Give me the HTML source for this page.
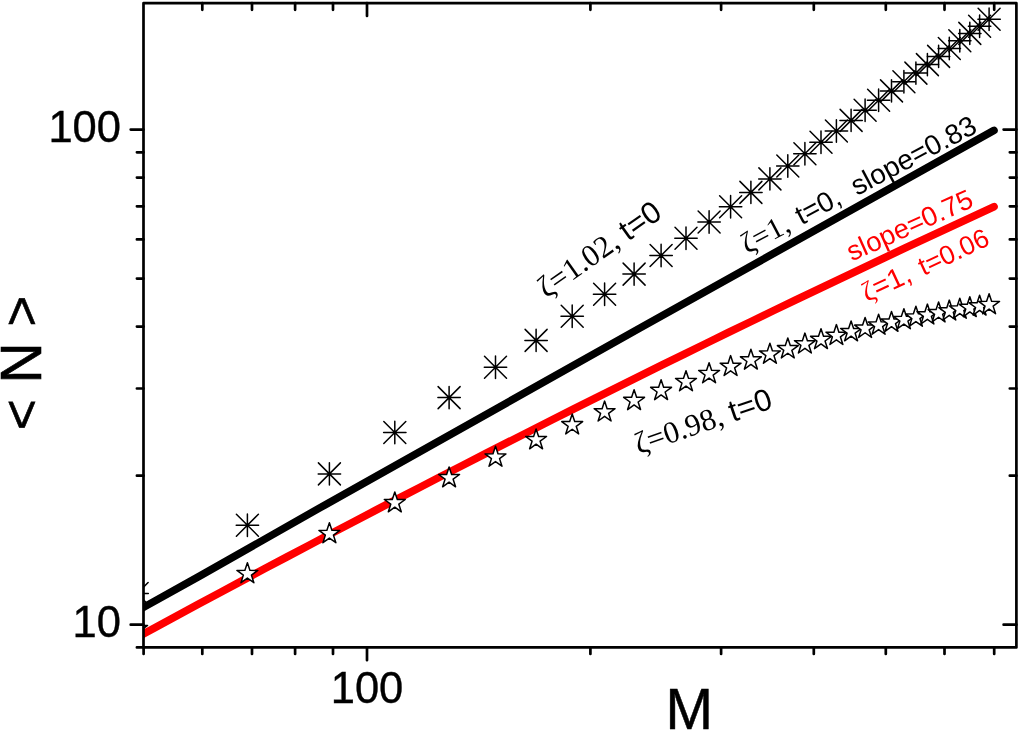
<!DOCTYPE html>
<html><head><meta charset="utf-8"><title>N vs M</title>
<style>
html,body{margin:0;padding:0;background:#fff;}
body{width:1020px;height:731px;overflow:hidden;}
svg{display:block;}
text{font-family:"Liberation Sans",sans-serif;}
.se{font-family:"Liberation Serif",serif;}
</style></head><body>
<svg width="1020" height="731" viewBox="0 0 1020 731">
<defs>
<clipPath id="cp"><rect x="143.5" y="3.2" width="872.9" height="644.2"/></clipPath>
<g id="as" stroke="#000" stroke-width="1.5" fill="none" stroke-linecap="round"><path d="M-11.2 0H11.2M0 -11.2V11.2M-11 -11L11 11M-11 11L11 -11"/></g>
<path id="st" fill="#fff" stroke="#000" stroke-width="1.5" stroke-linejoin="round" d="M0.00 -11.00L2.50 -3.44L10.46 -3.40L4.04 1.31L6.47 8.90L0.00 4.25L-6.47 8.90L-4.04 1.31L-10.46 -3.40L-2.50 -3.44Z"/>
</defs>
<rect width="1020" height="731" fill="#fff"/>

<g clip-path="url(#cp)">
<polyline fill="none" stroke="#000" stroke-width="7.6" stroke-linecap="round" stroke-linejoin="round" points="110,626 145,606.5 200,575.9 320,507.8 640,328 994,130.4"/>
<polyline fill="none" stroke="#f00" stroke-width="7.7" stroke-linecap="round" stroke-linejoin="round" points="110.0,652.2 132.1,640.1 154.2,628.1 176.3,616.2 198.4,604.2 220.5,592.3 242.6,580.5 264.7,568.7 286.8,557.0 308.9,545.3 331.0,533.7 353.1,522.1 375.2,510.5 397.3,499.0 419.4,487.6 441.5,476.2 463.6,464.8 485.7,453.5 507.8,442.3 529.9,431.1 552.0,419.9 574.1,408.8 596.2,397.7 618.3,386.7 640.4,375.8 662.5,364.8 684.6,354.0 706.7,343.1 728.8,332.3 750.9,321.6 773.0,310.9 795.1,300.3 817.2,289.7 839.3,279.2 861.4,268.7 883.5,258.2 905.6,247.8 927.7,237.5 949.8,227.2 971.9,216.9 994.0,206.7"/>
<use href="#as" x="137.1" y="593.5"/>
<use href="#as" x="247.4" y="525.2"/>
<use href="#as" x="329.4" y="473.9"/>
<use href="#as" x="394.8" y="432.5"/>
<use href="#as" x="449.1" y="397.6"/>
<use href="#as" x="495.5" y="367.2"/>
<use href="#as" x="536.1" y="340.4"/>
<use href="#as" x="572.2" y="316.2"/>
<use href="#as" x="604.6" y="294.3"/>
<use href="#as" x="634.1" y="274.1"/>
<use href="#as" x="661.1" y="255.5"/>
<use href="#as" x="686.0" y="238.2"/>
<use href="#as" x="709.1" y="222.0"/>
<use href="#as" x="730.6" y="206.8"/>
<use href="#as" x="750.9" y="192.4"/>
<use href="#as" x="769.9" y="178.9"/>
<use href="#as" x="787.8" y="166.0"/>
<use href="#as" x="804.9" y="153.8"/>
<use href="#as" x="821.0" y="142.2"/>
<use href="#as" x="836.4" y="131.0"/>
<use href="#as" x="851.1" y="120.4"/>
<use href="#as" x="865.1" y="110.2"/>
<use href="#as" x="878.6" y="100.3"/>
<use href="#as" x="891.5" y="90.9"/>
<use href="#as" x="903.9" y="81.8"/>
<use href="#as" x="915.9" y="73.1"/>
<use href="#as" x="927.4" y="64.6"/>
<use href="#as" x="938.6" y="56.4"/>
<use href="#as" x="949.3" y="48.5"/>
<use href="#as" x="959.8" y="40.8"/>
<use href="#as" x="969.8" y="33.4"/>
<use href="#as" x="979.6" y="26.2"/>
<use href="#as" x="989.1" y="19.2"/>
<use href="#st" x="137.1" y="628.8"/>
<use href="#st" x="247.4" y="573.8"/>
<use href="#st" x="329.4" y="533.8"/>
<use href="#st" x="394.8" y="502.9"/>
<use href="#st" x="449.1" y="477.9"/>
<use href="#st" x="495.5" y="457.3"/>
<use href="#st" x="536.1" y="439.9"/>
<use href="#st" x="572.2" y="425.0"/>
<use href="#st" x="604.6" y="412.1"/>
<use href="#st" x="634.1" y="400.7"/>
<use href="#st" x="661.1" y="390.7"/>
<use href="#st" x="686.0" y="381.8"/>
<use href="#st" x="709.1" y="373.8"/>
<use href="#st" x="730.6" y="366.6"/>
<use href="#st" x="750.9" y="360.2"/>
<use href="#st" x="769.9" y="354.3"/>
<use href="#st" x="787.8" y="349.0"/>
<use href="#st" x="804.9" y="344.1"/>
<use href="#st" x="821.0" y="339.7"/>
<use href="#st" x="836.4" y="335.6"/>
<use href="#st" x="851.1" y="331.9"/>
<use href="#st" x="865.1" y="328.5"/>
<use href="#st" x="878.6" y="325.3"/>
<use href="#st" x="891.5" y="322.4"/>
<use href="#st" x="903.9" y="319.8"/>
<use href="#st" x="915.9" y="317.3"/>
<use href="#st" x="927.4" y="315.1"/>
<use href="#st" x="938.6" y="313.0"/>
<use href="#st" x="949.3" y="311.1"/>
<use href="#st" x="959.8" y="309.3"/>
<use href="#st" x="969.8" y="307.7"/>
<use href="#st" x="979.6" y="306.2"/>
<use href="#st" x="989.1" y="304.8"/>
</g>
<g stroke="#000" stroke-width="2.7" fill="none" stroke-linecap="butt">
<rect x="143.5" y="3.2" width="872.9" height="644.2" stroke-linejoin="round"/>
<path stroke-linecap="round" d="M143.6 647.4v6.6M202.3 647.4v6.6M202.3 3.2v6.6M252.0 647.4v6.6M252.0 3.2v6.6M295.1 647.4v6.6M295.1 3.2v6.6M333.0 647.4v6.6M333.0 3.2v6.6M590.4 647.4v6.6M590.4 3.2v6.6M721.1 647.4v6.6M721.1 3.2v6.6M813.8 647.4v6.6M813.8 3.2v6.6M885.8 647.4v6.6M885.8 3.2v6.6M944.5 647.4v6.6M944.5 3.2v6.6M994.2 647.4v6.6M994.2 3.2v6.6M367.0 647.4v12.8M367.0 3.2v12.8M143.5 647.4h-6.6M143.5 475.7h-6.6M1016.4 475.7h-6.6M143.5 388.5h-6.6M1016.4 388.5h-6.6M143.5 326.6h-6.6M1016.4 326.6h-6.6M143.5 278.6h-6.6M1016.4 278.6h-6.6M143.5 239.4h-6.6M1016.4 239.4h-6.6M143.5 206.3h-6.6M1016.4 206.3h-6.6M143.5 177.6h-6.6M1016.4 177.6h-6.6M143.5 152.3h-6.6M1016.4 152.3h-6.6M143.5 624.7h-12.8M1016.4 624.7h-12.8M143.5 129.6h-12.8M1016.4 129.6h-12.8"/>
</g>
<text x="121" y="142.2" font-size="43.5" text-anchor="end" stroke="#000" stroke-width="0.4">100</text>
<text x="121" y="637.2" font-size="43.5" text-anchor="end" stroke="#000" stroke-width="0.4">10</text>
<text x="367" y="702.5" font-size="43.5" text-anchor="middle" stroke="#000" stroke-width="0.4">100</text>
<text x="689.3" y="728.6" font-size="57" text-anchor="middle" stroke="#000" stroke-width="0.5">M</text>
<text transform="translate(41.3 362.8) rotate(-90)" font-size="57" text-anchor="middle" stroke="#000" stroke-width="0.6"><tspan font-size="52.5" dy="-2.4">&lt;</tspan><tspan dy="2.4"> N </tspan><tspan font-size="52.5" dy="-2.4">&gt;</tspan></text>
<text transform="translate(546.5 298.7) rotate(-35)" font-size="30.8"><tspan class="se">ζ=1.02, </tspan>t=0</text>
<text transform="translate(747.3 254.1) rotate(-27.9)" font-size="29.5"><tspan class="se">ζ=1, </tspan><tspan font-size="28" dx="2.9">t=0, </tspan><tspan font-size="28" dx="7.5">slope=0.83</tspan></text>
<text transform="translate(851.8 261.6) rotate(-24.3)" font-size="27.5" fill="#f00">slope=0.75</text>
<text transform="translate(867 302.2) rotate(-25)" font-size="28" fill="#f00"><tspan class="se">ζ</tspan>=1, <tspan font-size="26.6" dx="3.2">t=0.06</tspan></text>
<text transform="translate(638.8 454.3) rotate(-19)" font-size="30.8"><tspan class="se">ζ=0.98, </tspan>t=0</text>
</svg></body></html>
